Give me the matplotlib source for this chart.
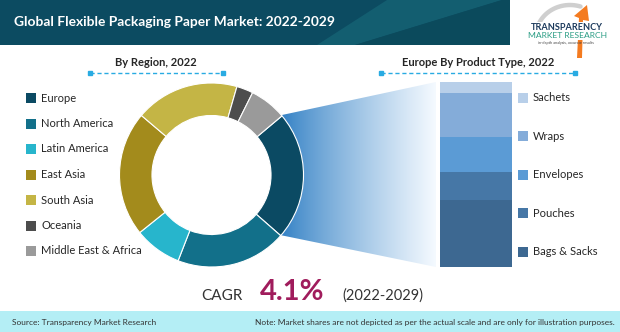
import matplotlib.pyplot as plt
import numpy as np
from matplotlib.patches import Rectangle, Polygon

W, H = 620, 332

# regional shares (%), 2022
regions = ["Europe", "North America", "Latin America", "East Asia",
           "South Asia", "Oceania", "Middle East & Africa"]
region_share = [22.5, 19.4, 8.3, 21.9, 18.2, 2.9, 6.5]
region_colors = ["#0b4a63", "#12708a", "#27b5cc", "#a38b1c",
                 "#c4b545", "#4d4d4d", "#9a9a9a"]

# Europe by product type (%), top to bottom
products = ["Sachets", "Wraps", "Envelopes", "Pouches", "Bags & Sacks"]
product_share = [6.2, 23.4, 19.1, 15.0, 36.3]
product_colors = ["#b8cfe9", "#84acd9", "#5b9bd5", "#4677a6", "#3d6891"]

cagr = "4.1%"
period = "(2022-2029)"

plt.rcParams['font.family'] = ['Lato', 'DejaVu Sans']

fig = plt.figure(figsize=(W / 100, H / 100), dpi=100)
fig.patch.set_facecolor("white")


def px_axes(x0, y0, x1, y1):
    return fig.add_axes([x0 / W, 1 - y1 / H, (x1 - x0) / W, (y1 - y0) / H])


ax = px_axes(0, 0, W, H)
ax.set_xlim(0, W)
ax.set_ylim(H, 0)
ax.axis("off")

# header band
ax.add_patch(Rectangle((0, 0), 510, 45, color="#0c4b61", lw=0))
ax.add_patch(Polygon([(387, 0), (502, 0), (355, 45), (317, 45)], color="#135e70", lw=0))
ax.add_patch(Polygon([(502, 0), (510, 0), (510, 45), (355, 45)], color="#0b4a5c", lw=0))
ax.text(14, 22, "Global Flexible Packaging Paper Market: 2022-2029", color="white",
        fontsize=9.95, fontweight="bold", va="center", ha="left")

# logo
t = np.linspace(np.pi * 0.97, np.pi * 0.4, 30)
ax.plot(570 + 34 * np.cos(t), 36 - 31 * np.sin(t), color="#cfcfcf", lw=3.2, solid_capstyle="round")
ax.add_patch(Polygon([(577, 58), (582, 58), (583, 20), (589, 21), (587, 5),
                      (574, 16), (579, 18)], color="#f47b20", lw=0))
ax.text(567, 27, "TRANSPARENCY", color="#1c3a5c", fontsize=6.6, fontweight="bold",
        ha="center", va="center",
        bbox=dict(boxstyle="square,pad=0.05", fc="white", ec="none"))
ax.text(567, 36, "MARKET RESEARCH", color="#2a9d84", fontsize=6.1, ha="center", va="center",
        bbox=dict(boxstyle="square,pad=0.05", fc="white", ec="none"))
ax.text(566, 43, "in-depth analysis, accurate results", color="#444444", fontsize=2.7,
        ha="center", va="center")

# section titles with dashed rules
for cx, label, x0, x1 in [(156, "By Region, 2022", 90, 223),
                          (478, "Europe By Product Type, 2022", 381, 575)]:
    ax.text(cx, 62, label, fontsize=8, fontweight="bold", color="#262626",
            ha="center", va="center")
    ax.plot([x0, x1], [73, 73], ls=(0, (3, 2)), lw=1, color="#29abe2")
    ax.plot([x0, x1], [73, 73], ls="none", marker="s", ms=3, color="#29abe2")

# region legend
for i, (name, col) in enumerate(zip(regions, region_colors)):
    y = 98 + i * 25.5
    ax.add_patch(Rectangle((26, y - 5), 10, 10, color=col, lw=0))
    ax.text(41, y, name, fontsize=8, color="#262626", va="center", ha="left")

# product legend
for i, (name, col) in enumerate(zip(products, product_colors)):
    y = 97.7 + i * 38.5
    ax.add_patch(Rectangle((518, y - 5), 10, 10, color=col, lw=0))
    ax.text(533, y, name, fontsize=8, color="#262626", va="center", ha="left")

# gradient funnel from Europe slice to the bar
funnel = Polygon([(282, 115), (436, 82), (436, 267), (280, 235)], closed=True,
                 facecolor="none", edgecolor="none")
ax.add_patch(funnel)
grad = np.linspace(0, 1, 256)[None, :]
c0 = np.array([0.16, 0.48, 0.76])
c1 = np.array([0.96, 0.98, 1.0])
img = c0 + (c1 - c0) * grad[..., None] ** 0.8
im = ax.imshow(np.repeat(img, 2, axis=0), extent=[278, 436, 267, 82], aspect="auto", zorder=1)
im.set_clip_path(funnel)

# donut
pax = px_axes(119.5, 83, 303.5, 267)
pax.pie(region_share, colors=region_colors, startangle=40, counterclock=False, radius=1,
        wedgeprops=dict(width=0.353, edgecolor="white", linewidth=0.8))
pax.set_xlim(-1.0, 1.0)
pax.set_ylim(-1.0, 1.0)
pax.set_aspect("equal")
pax.axis("off")

# stacked bar
bax = px_axes(440, 82, 512, 267)
bottom = 0
for val, col in zip(product_share[::-1], product_colors[::-1]):
    bax.bar(0, val, bottom=bottom, width=1, color=col, lw=0)
    bottom += val
bax.set_xlim(-0.5, 0.5)
bax.set_ylim(0, bottom)
bax.axis("off")

# CAGR line
ax.text(243, 296, "CAGR", fontsize=11, color="#333333", ha="right", va="center")
ax.text(260, 292, cagr, fontsize=21, fontweight="bold", color="#a01c5c",
        ha="left", va="center")
ax.text(342, 296, period, fontsize=10.5, color="#333333", ha="left", va="center")

# footer
ax.add_patch(Rectangle((0, 311), W, H - 311, color="#b4eef5", lw=0))
ax.text(12, 322, "Source: Transparency Market Research", fontsize=6, color="#333333",
        va="center", ha="left")
ax.text(615, 322, "Note: Market shares are not depicted as per the actual scale and are only for illustration purposes.",
        fontsize=6, color="#333333", va="center", ha="right")

fig.savefig("out.png", dpi=100)
